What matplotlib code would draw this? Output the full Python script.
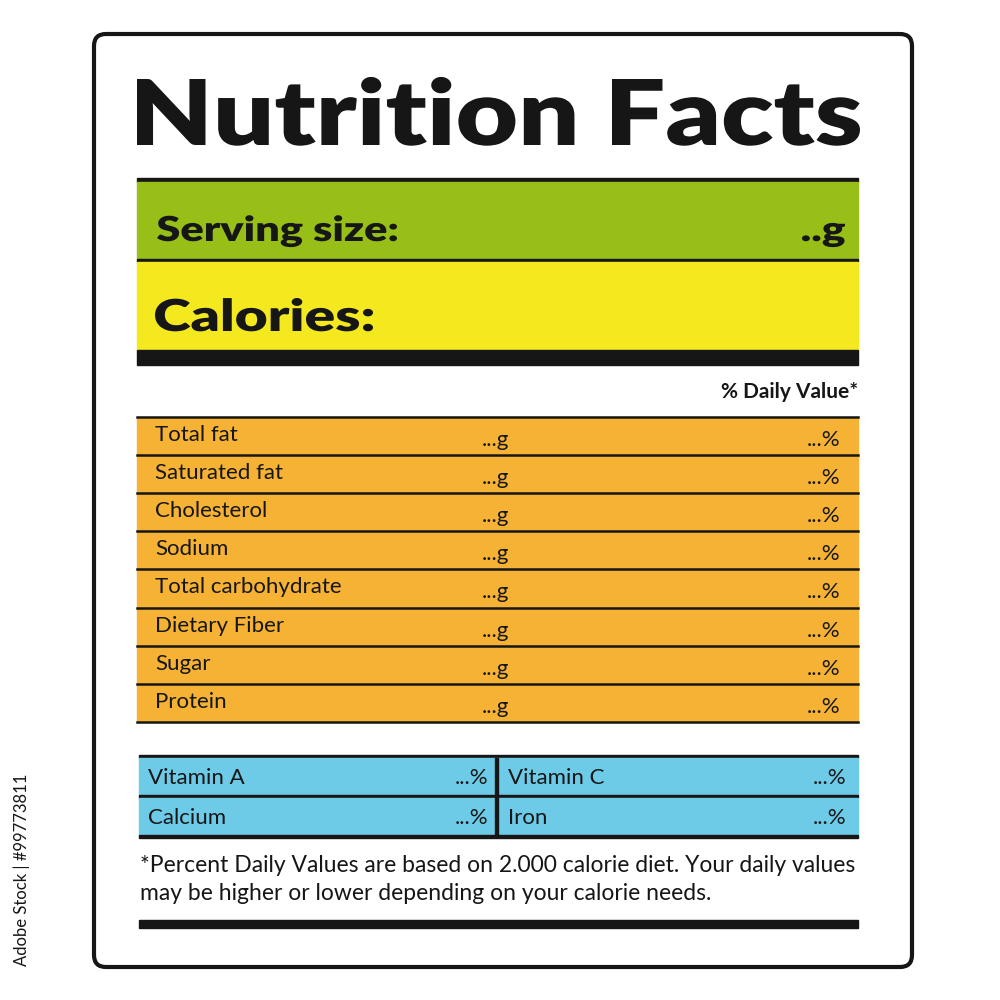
import matplotlib.pyplot as plt
from matplotlib.patches import FancyBboxPatch, Rectangle, PathPatch
from matplotlib.textpath import TextPath
from matplotlib.font_manager import FontProperties
from matplotlib.transforms import Affine2D

# label content
title = "Nutrition Facts"
serving_label, serving_unit = "Serving size:", "..g"
calories_label = "Calories:"
dv_header = "% Daily Value*"
nutrients = ["Total fat", "Saturated fat", "Cholesterol", "Sodium",
             "Total carbohydrate", "Dietary Fiber", "Sugar", "Protein"]
nutrient_amounts = ["...g"] * 8
nutrient_pct = ["...%"] * 8
vitamins_left = ["Vitamin A", "Calcium"]
vitamins_right = ["Vitamin C", "Iron"]
vitamin_pct = ["...%", "...%"]
footnote = ["*Percent Daily Values are based on 2.000 calorie diet. Your daily values",
            "may be higher or lower depending on your calorie needs."]
stock_id = "Adobe Stock | #99773811"

GREEN, YELLOW, ORANGE, BLUE = "#98bf17", "#f4e81e", "#f5b235", "#6dcbe8"
INK = "#161616"
plt.rcParams['font.family'] = ['Lato', 'DejaVu Sans']
HEAVY = FontProperties(family='Lato', weight='heavy')

fig = plt.figure(figsize=(10, 10), dpi=100)
ax = fig.add_axes([0, 0, 1, 1])
ax.set_xlim(0, 1000)
ax.set_ylim(1000, 0)
ax.axis('off')


def wide_text(s, x0, x1, ybase, cap, align='left'):
    # heavy text stretched to a given width (x0..x1) and cap height
    tp = TextPath((0, 0), s, size=1, prop=HEAVY)
    ext = tp.get_extents()
    capref = TextPath((0, 0), "H", size=1, prop=HEAVY).get_extents().y1
    sx = (x1 - x0) / ext.width
    sy = cap / capref
    tr = Affine2D().translate(-ext.x0, 0).scale(sx, -sy).translate(x0, ybase)
    ax.add_patch(PathPatch(tr.transform_path(tp), fc=INK, lw=0))


ax.add_patch(FancyBboxPatch((94, 34), 818, 933, boxstyle="round,pad=0,rounding_size=12",
                            fill=False, ec=INK, lw=3))
wide_text(title, 137, 860, 145, 66)

L, R = 137, 858
ax.add_patch(Rectangle((L, 178), R - L, 4, color=INK))
ax.add_patch(Rectangle((L, 182), R - L, 78, color=GREEN))
wide_text(serving_label, 157, 397, 241, 25)
wide_text(serving_unit, 802, 845, 241, 25)
ax.add_patch(Rectangle((L, 259), R - L, 3, color=INK))
ax.add_patch(Rectangle((L, 262), R - L, 88, color=YELLOW))
wide_text(calories_label, 155, 373, 331, 32)
ax.add_patch(Rectangle((L, 350), R - L, 15, color=INK))
ax.text(858, 392, dv_header, ha='right', va='center', fontsize=15, fontweight='bold', color=INK)

top, h = 417, 38.1
for i, name in enumerate(nutrients):
    y0 = top + i * h
    ax.add_patch(Rectangle((L, y0), R - L, h, color=ORANGE))
    yc = y0 + h / 2
    ax.text(155, yc - 1, name, ha='left', va='center', fontsize=16, color=INK)
    ax.text(482, yc + 4, nutrient_amounts[i], ha='left', va='center', fontsize=16, color=INK)
    ax.text(840, yc + 4, nutrient_pct[i], ha='right', va='center', fontsize=16, color=INK)
for i in range(len(nutrients) + 1):
    ax.plot([L, R], [top + i * h] * 2, color=INK, lw=1.8)

vt, vh = 758, 40
ax.add_patch(Rectangle((139, vt - 3), R - 139, 3, color=INK))
for i in range(2):
    y0 = vt + i * vh
    ax.add_patch(Rectangle((139, y0), R - 139, vh - 3, color=BLUE))
    ax.add_patch(Rectangle((139, y0 + vh - 3), R - 139, 3, color=INK))
    yc = y0 + (vh - 3) / 2 + 2
    ax.text(148, yc, vitamins_left[i], ha='left', va='center', fontsize=16, color=INK)
    ax.text(488, yc, vitamin_pct[i], ha='right', va='center', fontsize=16, color=INK)
    ax.text(508, yc, vitamins_right[i], ha='left', va='center', fontsize=16, color=INK)
    ax.text(846, yc, vitamin_pct[i], ha='right', va='center', fontsize=16, color=INK)
ax.add_patch(Rectangle((495, vt), 3, 2 * vh - 3, color=INK))

for i, line in enumerate(footnote):
    ax.text(140, 866 + i * 27, line, ha='left', va='center', fontsize=16.5, color=INK)
ax.add_patch(Rectangle((139, 920), R - 139, 8, color=INK))

ax.text(22, 870, stock_id, ha='center', va='center', rotation=90, fontsize=12, color=INK)

fig.savefig("out.png", dpi=100, facecolor='white')
